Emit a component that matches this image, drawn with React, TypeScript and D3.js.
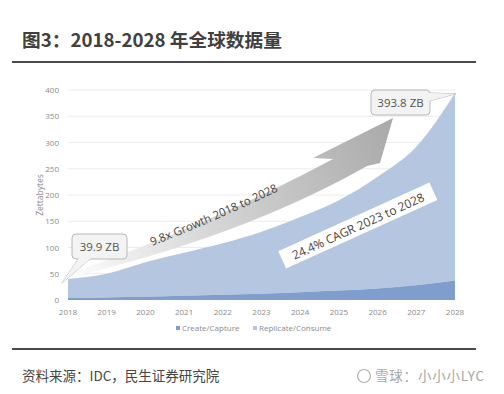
import React, { useRef, useEffect } from "react";
import * as d3 from "d3";

const years = [2018, 2019, 2020, 2021, 2022, 2023, 2024, 2025, 2026, 2027, 2028];
const createCapture = [4, 5, 6, 8, 10, 12, 15, 18, 22, 28, 37];
const replicateConsume = [35.9, 45, 66, 82, 98, 118, 143, 172, 213, 264, 356.8];
const yTicks = [0, 50, 100, 150, 200, 250, 300, 350, 400];
const seriesNames = ["Create/Capture", "Replicate/Consume"];

const CJK = "'Noto Sans CJK SC', 'Noto Sans', sans-serif";
const SANS = "'Open Sans', 'Noto Sans', sans-serif";

function App() {
  const ref = useRef<HTMLDivElement>(null);

  useEffect(() => {
    d3.select(ref.current).select("svg").remove();
    const width = 504,
      height = 394;

    const svg = d3
      .select(ref.current)
      .append("svg")
      .attr("width", width)
      .attr("height", height)
      .style("display", "block");

    svg.append("rect").attr("width", width).attr("height", height).attr("fill", "#fff");

    // header / footer
    svg
      .append("text")
      .attr("x", 22)
      .attr("y", 47)
      .attr("font-family", CJK)
      .attr("font-weight", 700)
      .attr("font-size", 18.7)
      .attr("fill", "#404040")
      .text("图3：2018-2028 年全球数据量");

    [62, 349].forEach(y => {
      svg.append("line").attr("x1", 12).attr("x2", 476).attr("y1", y).attr("y2", y)
        .attr("stroke", "#4a4a4a").attr("stroke-width", 2);
      svg.append("line").attr("x1", 501).attr("x2", 504).attr("y1", y).attr("y2", y)
        .attr("stroke", "#4a4a4a").attr("stroke-width", 2);
    });

    svg
      .append("text")
      .attr("x", 22)
      .attr("y", 381)
      .attr("font-family", CJK)
      .attr("font-size", 13.5)
      .attr("fill", "#444")
      .text("资料来源：IDC，民生证券研究院");

    const wm = svg.append("g").attr("fill", "#a8a8a8");
    wm.append("circle").attr("cx", 364).attr("cy", 376).attr("r", 6.5)
      .attr("fill", "none").attr("stroke", "#b0b0b0").attr("stroke-width", 1.2);
    wm.append("text").attr("x", 375).attr("y", 381).attr("font-family", CJK)
      .attr("font-size", 13.5).attr("letter-spacing", 0.8).text("雪球：小小小LYC");

    // scales
    const x = d3.scaleLinear().domain([2018, 2028]).range([68, 455]);
    const y = d3.scaleLinear().domain([0, 400]).range([300, 90]);

    const g = svg.append("g");

    g.selectAll(".grid")
      .data(yTicks.filter(t => t > 0))
      .enter()
      .append("line")
      .attr("x1", x(2018))
      .attr("x2", x(2028))
      .attr("y1", d => y(d))
      .attr("y2", d => y(d))
      .attr("stroke", "#ececec")
      .attr("stroke-width", 1);

    g.selectAll(".ytick")
      .data(yTicks)
      .enter()
      .append("text")
      .attr("x", 59)
      .attr("y", d => y(d) + 3)
      .attr("text-anchor", "end")
      .attr("font-family", SANS)
      .attr("font-size", 8)
      .attr("fill", "#8a8a8a")
      .text(d => d);

    g.append("text")
      .attr("transform", `translate(43, ${y(200)}) rotate(-90)`)
      .attr("text-anchor", "middle")
      .attr("font-family", SANS)
      .attr("font-size", 8.5)
      .attr("fill", "#8a8a8a")
      .text("Zettabytes");

    g.selectAll(".xtick")
      .data(years)
      .enter()
      .append("text")
      .attr("x", d => x(d))
      .attr("y", 315)
      .attr("text-anchor", "middle")
      .attr("font-family", SANS)
      .attr("font-size", 8)
      .attr("fill", "#8a8a8a")
      .text(d => d);

    // stacked areas
    const rows = years.map((yr, i) => ({
      year: yr,
      create: createCapture[i],
      replicate: replicateConsume[i]
    }));
    const stack = d3.stack<any>().keys(["create", "replicate"]);
    const layers = stack(rows);
    const colors = ["#7f9dcd", "#b5c6e1"];

    const area = d3
      .area<any>()
      .x(d => x(d.data.year))
      .y0(d => y(d[0]))
      .y1(d => y(d[1]))
      .curve(d3.curveMonotoneX);

    g.selectAll(".layer")
      .data(layers.slice().reverse())
      .enter()
      .append("path")
      .attr("d", d => area(d as any))
      .attr("fill", (d, i) => colors[1 - i]);

    // legend
    const legX = [176, 253];
    seriesNames.forEach((name, i) => {
      g.append("rect").attr("x", legX[i]).attr("y", 326).attr("width", 4).attr("height", 4)
        .attr("fill", colors[i]);
      g.append("text").attr("x", legX[i] + 6).attr("y", 331)
        .attr("font-family", SANS).attr("font-size", 8).attr("fill", "#8a8a8a").text(name);
    });

    // growth arrow
    const defs = svg.append("defs");
    const grad = defs.append("linearGradient").attr("id", "arrowGrad")
      .attr("gradientUnits", "userSpaceOnUse")
      .attr("x1", 62).attr("y1", 278).attr("x2", 393).attr("y2", 118);
    grad.append("stop").attr("offset", "0%").attr("stop-color", "#ffffff");
    grad.append("stop").attr("offset", "40%").attr("stop-color", "#d8d8d8");
    grad.append("stop").attr("offset", "100%").attr("stop-color", "#a9a9a9");

    const total0 = createCapture[0] + replicateConsume[0];
    const totalN = createCapture[10] + replicateConsume[10];
    const sx = x(2018) - 6, sy = y(total0) - 3;

    g.append("path")
      .attr("d", `M${sx},${sy} Q210,225 333,159 L313,158 L393,118 L380,163 L367,166 Q240,238 ${sx},${sy + 3} Z`)
      .attr("fill", "url(#arrowGrad)");

    defs.append("path").attr("id", "growthPath").attr("d", "M152,246 Q226,217 303,179");
    g.append("text")
      .attr("font-family", SANS)
      .attr("font-size", 11.5)
      .attr("fill", "#444")
      .append("textPath")
      .attr("href", "#growthPath")
      .text("9.8x Growth 2018 to 2028");

    // CAGR label
    const cagr = g.append("g").attr("transform", "translate(358,226) rotate(-24.4)");
    cagr.append("rect").attr("x", -83).attr("y", -10).attr("width", 166).attr("height", 19)
      .attr("fill", "#fff");
    cagr.append("text").attr("y", 4.5).attr("text-anchor", "middle")
      .attr("font-family", SANS).attr("font-size", 12).attr("fill", "#444")
      .text("24.4% CAGR 2023 to 2028");

    // callouts
    const callout = (bx: number, by: number, bw: number, bh: number, tail: string, label: string) => {
      const c = g.append("g");
      c.append("path").attr("d", tail).attr("fill", "#f3f3f3").attr("stroke", "#b8b8b8").attr("stroke-width", 1);
      c.append("rect").attr("x", bx).attr("y", by).attr("width", bw).attr("height", bh).attr("rx", 4)
        .attr("fill", "#f3f3f3").attr("stroke", "#b8b8b8").attr("stroke-width", 1);
      c.append("path").attr("d", tail).attr("fill", "#f3f3f3").attr("stroke", "none");
      c.append("text").attr("x", bx + bw / 2).attr("y", by + bh / 2 + 4).attr("text-anchor", "middle")
        .attr("font-family", SANS).attr("font-size", 11.5).attr("fill", "#555").text(label);
    };

    const p0x = x(2018) - 6, p0y = y(total0) + 4;
    callout(72, 234, 55, 25, `M79,258 L${p0x},${p0y} L91,258 Z`, `${total0} ZB`);
    const pNx = x(2028) + 1, pNy = y(totalN) + 0.5;
    callout(371, 90, 59, 25, `M429,93 L${pNx},${pNy} L429,101 Z`, `${totalN.toFixed(1)} ZB`);
  }, []);

  return <div ref={ref} style={{ margin: -8 }}></div>;
}

export default App;
